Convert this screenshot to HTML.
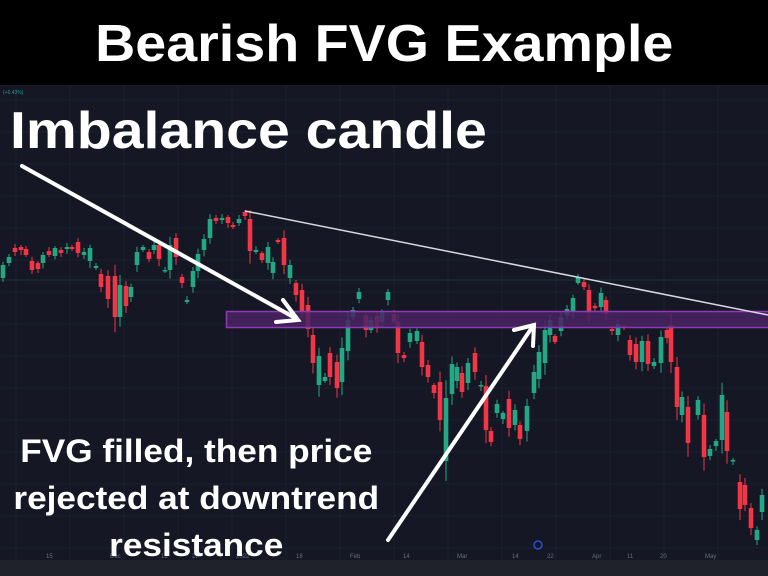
<!DOCTYPE html>
<html><head><meta charset="utf-8"><style>
html,body{margin:0;padding:0;background:#000;}
#w{position:relative;width:768px;height:576px;overflow:hidden;background:#151824;font-family:"Liberation Sans",sans-serif;}
.t{position:absolute;color:#fff;font-weight:bold;white-space:nowrap;}
</style></head><body><div id="w">
<svg id="s" width="768" height="576" style="position:absolute;left:0;top:0">
<rect x="0" y="0" width="768" height="85" fill="#000"/>
<rect x="0" y="85" width="768" height="475" fill="#151824"/>
<rect x="0" y="560" width="768" height="16" fill="#1f212b"/>
<g id="grid" stroke="#1c2030" stroke-width="1"></g>
<line x1="0" y1="280" x2="768" y2="280" stroke="#1b3333" stroke-width="1"/>
<g id="c"></g>
<rect x="226.5" y="311.5" width="545" height="16" fill="#4a2364" fill-opacity="0.85" stroke="#8d3bb0" stroke-width="1.5"/>
<line x1="245" y1="211" x2="768" y2="315" stroke="#d8d8e0" stroke-width="1.5"/>
<g stroke="#fff" stroke-width="4" stroke-linecap="round" fill="none">
<line x1="22" y1="166" x2="297" y2="319"/>
<polyline points="283,300 298,320 276,322"/>
<line x1="388" y1="540" x2="533" y2="326"/>
<polyline points="514,330 534,325 533,346"/>
</g>
<circle cx="538" cy="545" r="4" fill="none" stroke="#2a4fd0" stroke-width="1.5"/>
<g fill="#6a6e7a" font-size="6" font-family="Liberation Sans">
<text x="46" y="558">15</text><text x="110" y="558">Dec</text><text x="161" y="558">13</text><text x="192" y="558">27</text><text x="236" y="558">2022</text><text x="296" y="558">18</text><text x="350" y="558">Feb</text><text x="403" y="558">14</text><text x="457" y="558">Mar</text><text x="512" y="558">14</text><text x="547" y="558">22</text><text x="592" y="558">Apr</text><text x="627" y="558">11</text><text x="660" y="558">20</text><text x="705" y="558">May</text>
</g>
<text x="3" y="94" fill="#2a9d8f" font-size="5" font-family="Liberation Sans">(+0.43%)</text>
</svg>
<div class="t" style="left:0;width:768px;text-align:center;top:16px;font-size:52px;line-height:56px;"><span style="display:inline-block;transform:scaleX(1.07)">Bearish FVG Example</span></div>
<div class="t" style="left:10px;top:102px;font-size:52px;line-height:58px;transform:scaleX(1.1);transform-origin:0 0;">Imbalance candle</div>
<div class="t" style="left:0;width:392px;text-align:center;top:428px;font-size:32px;line-height:47px;"><span style="display:inline-block;transform:scaleX(1.1)">FVG filled, then price<br>rejected at downtrend<br>resistance</span></div>
</div>
<script>
var d=[[3,265,278,'G'],[9,257,263,'G'],[15,248,252,'R'],[21,247,250,'R'],[26,249,255,'R'],[32,261,270,'R'],[38,263,269,'R'],[43,255,263,'G'],[49,251,255,'R'],[55,248,256,'G'],[61,250,253,'R'],[67,247,249,'G'],[72,247,249,'R'],[78,242,253,'R'],[84,252,255,'G'],[90,248,261,'G'],[96,266,268,'G'],[101,274,287,'R'],[108,276,299,'R'],[115,276,317,'R'],[120,285,317,'G'],[126,286,306,'R'],[131,287,297,'G'],[137,252,265,'G'],[143,247,250,'G'],[149,252,259,'R'],[154,245,250,'G'],[159,245,259,'R'],[165,270,271,'G'],[170,245,270,'G'],[176,238,257,'R'],[182,277,283,'R'],[187,300,302,'G'],[193,271,287,'G'],[198,254,271,'G'],[204,239,250,'G'],[210,219,238,'G'],[216,218,221,'R'],[222,218,220,'G'],[228,217,223,'R'],[233,225,227,'R'],[239,219,223,'G'],[245,212,216,'R'],[250,219,251,'R'],[256,250,252,'G'],[262,253,260,'R'],[268,247,263,'G'],[273,262,273,'G'],[278,240,242,'R'],[284,238,265,'R'],[290,265,278,'G'],[296,283,295,'R'],[302,290,311,'R'],[308,305,329,'R'],[313,335,363,'R'],[319,356,385,'G'],[325,377,381,'G'],[330,353,377,'R'],[337,362,388,'R'],[342,348,382,'G'],[348,320,351,'G'],[353,310,317,'G'],[359,292,299,'G'],[366,315,330,'R'],[371,320,330,'G'],[377,316,328,'R'],[382,312,322,'G'],[388,292,300,'G'],[394,314,322,'R'],[398,322,353,'R'],[404,355,358,'R'],[410,333,342,'G'],[417,331,341,'G'],[422,342,367,'R'],[428,365,377,'R'],[434,385,393,'R'],[440,382,420,'R'],[446,398,461,'G'],[452,364,394,'G'],[457,367,381,'G'],[462,373,392,'R'],[468,363,383,'G'],[475,353,372,'R'],[481,385,386,'G'],[486,386,430,'R'],[491,431,442,'R'],[497,404,413,'G'],[503,413,419,'G'],[509,399,428,'R'],[515,410,425,'G'],[520,425,439,'R'],[527,406,431,'G'],[534,372,393,'G'],[539,352,379,'G'],[545,330,363,'G'],[550,320,335,'G'],[555,336,342,'R'],[561,317,331,'G'],[567,309,315,'G'],[573,298,311,'G'],[578,277,283,'G'],[584,282,287,'R'],[589,290,313,'R'],[595,306,308,'R'],[601,293,307,'G'],[606,300,314,'R'],[612,329,331,'R'],[618,324,335,'G'],[624,326,328,'R'],[630,340,355,'R'],[636,344,362,'R'],[642,341,362,'G'],[648,341,364,'R'],[654,362,366,'G'],[661,337,363,'G'],[667,330,338,'R'],[671,325,362,'R'],[677,367,407,'R'],[682,397,415,'G'],[688,407,443,'R'],[698,400,415,'G'],[704,415,457,'R'],[710,449,456,'G'],[716,441,446,'G'],[722,395,440,'G'],[727,412,451,'R'],[733,460,461,'G'],[740,482,509,'R'],[745,485,505,'R'],[751,508,528,'R'],[757,530,540,'G'],[762,495,512,'G']];
var ns='http://www.w3.org/2000/svg',g=document.getElementById('c'),gr=document.getElementById('grid');
function el(p,t,a){var e=document.createElementNS(ns,t);for(var k in a)e.setAttribute(k,a[k]);p.appendChild(e);}
for(var x=16;x<768;x+=54)el(gr,'line',{x1:x,y1:85,x2:x,y2:560});
for(var y=100;y<560;y+=32)el(gr,'line',{x1:0,y1:y,x2:768,y2:y});
d.forEach(function(c,i){var col=c[3]=='G'?'#22a884':'#f23645';var h=c[2]-c[1];var wt=c[1]-Math.max(2,h*0.25)-(i%3),wb=c[2]+Math.max(2,h*0.3)+(i%4);
el(g,'line',{x1:c[0],y1:wt,x2:c[0],y2:wb,stroke:col,'stroke-width':1});
el(g,'rect',{x:c[0]-2.3,y:c[1],width:4.6,height:Math.max(1.5,h),fill:col});});
</script>
</body></html>
